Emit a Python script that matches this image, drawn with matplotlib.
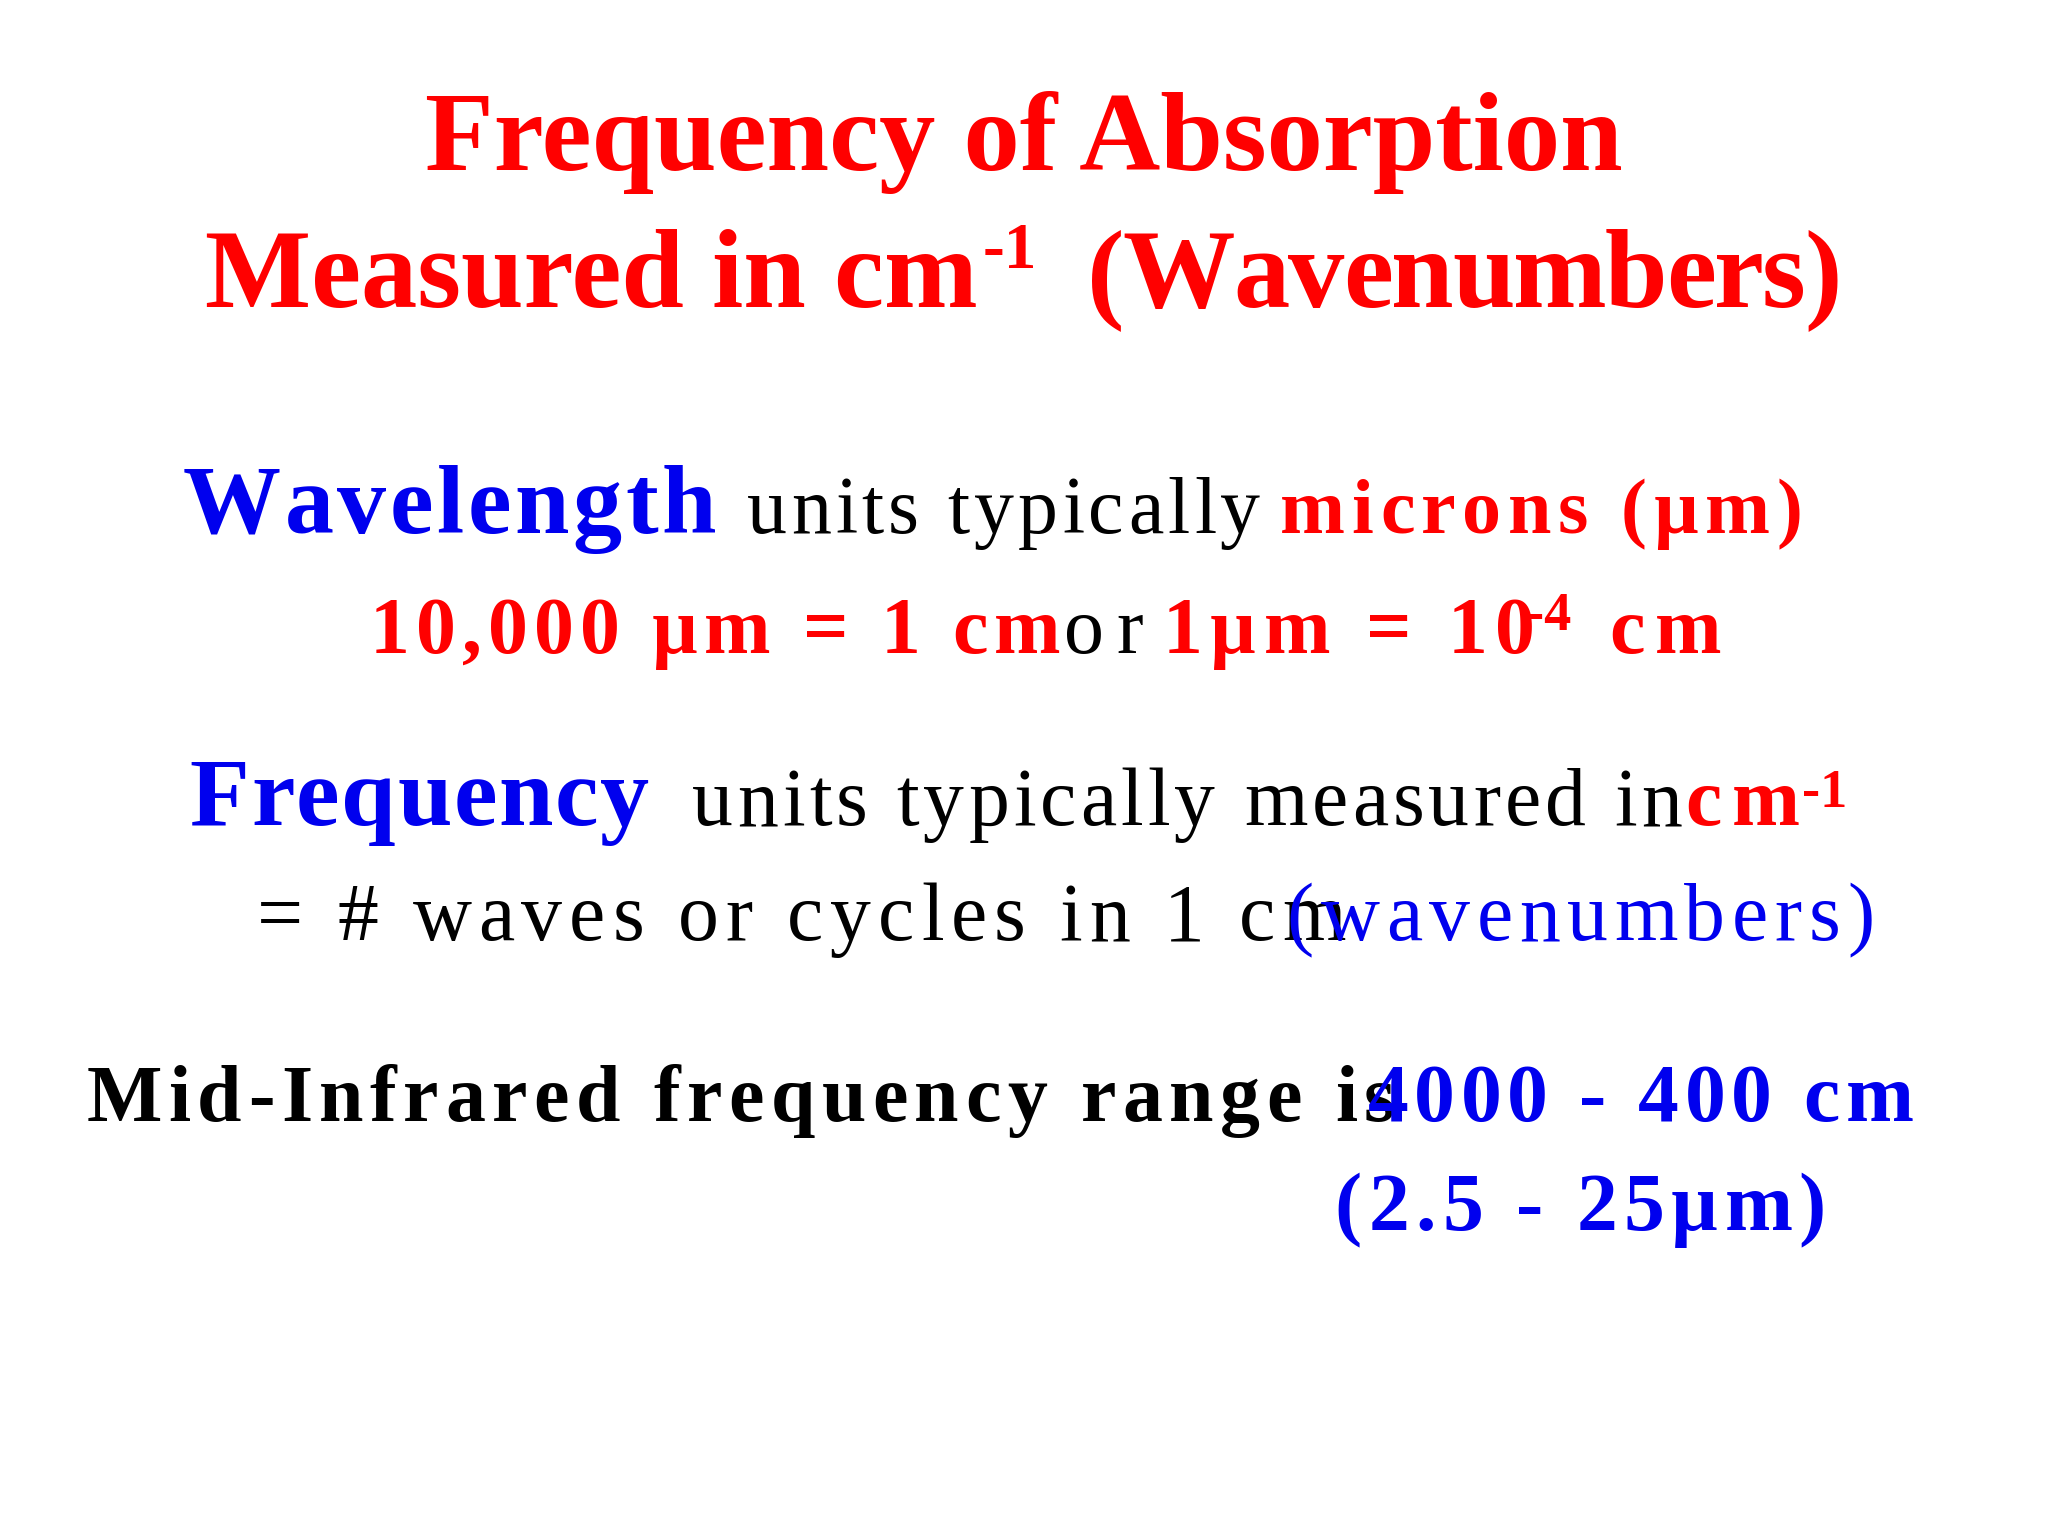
import matplotlib
matplotlib.use("Agg")
import matplotlib.pyplot as plt

W, H = 1568, 1176
S = 2048 / W
FONT = ["Liberation Serif", "DejaVu Serif"]
RED, BLUE, BLACK = "#ff0000", "#0000ee", "#000000"

title_line1 = "Frequency of Absorption"
title_line2 = ["Measured in cm", "-1", " (Wavenumbers)"]

# (text, x_px, x_end_px or None, baseline_px, size, weight, color)
pieces = [
    (title_line2[0], 157, None, 235, 62, "bold", RED),
    (title_line2[1], 752, None, 205, 36, "bold", RED),
    (title_line2[2], 812, 1410, 235, 62, "bold", RED),
    ("Wavelength", 140, 548, 408, 54, "bold", BLUE),
    ("units typically", 572, 965, 408, 44, "normal", BLACK),
    ("microns (\u00b5m)", 980, 1380, 408, 43, "bold", RED),
    ("10,000 \u00b5m = 1 cm", 283, 812, 500, 44, "bold", RED),
    ("or", 815, 875, 500, 44, "normal", BLACK),
    ("1\u00b5m = 10", 890, 1175, 500, 44, "bold", RED),
    ("-4", 1168, None, 482, 30, "bold", RED),
    ("cm", 1232, 1318, 500, 44, "bold", RED),
    ("Frequency", 145, 497, 632, 54, "bold", BLUE),
    ("units typically measured in", 530, 1288, 632, 45, "normal", BLACK),
    ("cm", 1290, 1378, 632, 45, "bold", RED),
    ("-1", 1380, None, 618, 30, "bold", RED),
    ("= # waves or cycles in 1 cm", 197, 1030, 720, 45, "normal", BLACK),
    ("(wavenumbers)", 985, 1435, 720, 45, "normal", BLUE),
    ("Mid-Infrared frequency range is", 66, 1068, 858, 44, "bold", BLACK),
    ("4000 - 400 cm", 1047, 1465, 858, 45, "bold", BLUE),
    ("(2.5 - 25\u00b5m)", 1022, 1398, 942, 45, "bold", BLUE),
]

fig = plt.figure(figsize=(20.48, 15.36), dpi=100)
fig.patch.set_facecolor("white")
r = fig.canvas.get_renderer()
fig.text(784 / W, 1 - 130 / H, title_line1, ha="center", va="baseline",
         fontsize=62 * S, fontweight="bold", color=RED, family=FONT)

def spaced(t, x, xe, y, s, w, c):
    kw = dict(ha="left", va="baseline", fontsize=s * S, fontweight=w, color=c, family=FONT)
    if xe is None:
        fig.text(x / W, 1 - y / H, t, **kw)
        return
    widths = []
    for ch in t:
        tmp = fig.text(0, 0, ch if ch != " " else "\u00a0", **kw)
        widths.append(tmp.get_window_extent(r).width)
        tmp.remove()
    total = (xe - x) * S
    gap = (total - sum(widths)) / max(len(t) - 1, 1)
    px = x * S
    for ch, wd in zip(t, widths):
        if ch != " ":
            fig.text(px / 2048, 1 - y / H, ch, **kw)
        px += wd + gap

for p in pieces:
    spaced(*p)
fig.savefig("out.png", dpi=100, facecolor="white")
